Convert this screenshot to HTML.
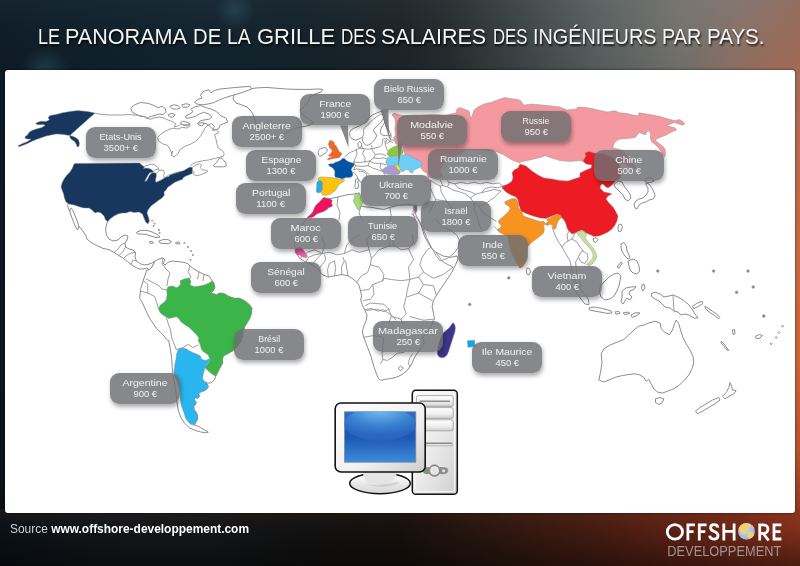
<!DOCTYPE html>
<html lang="fr">
<head>
<meta charset="utf-8">
<title>Le panorama de la grille des salaires des ingénieurs par pays</title>
<style>
html,body{margin:0;padding:0}
body{width:800px;height:566px;overflow:hidden;position:relative;background:#0c141a;font-family:"Liberation Sans",sans-serif}
.bg{position:absolute;left:0;top:0;width:800px;height:566px;background:#0c1a24}
.bt{position:absolute;left:0;top:0;width:800px;height:74px;background:
 radial-gradient(ellipse 170px 150px at 840px 130px, rgba(214,120,85,.75) 0%, rgba(200,110,80,.4) 50%, rgba(160,100,80,0) 100%),
 linear-gradient(to bottom, rgba(255,255,255,.03) 0%, rgba(0,0,0,0) 50%, rgba(0,0,0,.05) 100%),
 linear-gradient(to right,#0e1c27 0px,#10212c 100px,#12242f 200px,#14222a 300px,#1c2428 400px,#262d2f 450px,#3c4546 520px,#596060 600px,#74726d 680px,#82726b 740px,#8a6a5d 800px)}
.bb{position:absolute;left:0;top:509px;width:800px;height:57px;background:
 linear-gradient(to bottom, rgba(255,130,60,.07) 0%, rgba(0,0,0,0) 30%, rgba(0,0,0,.2) 65%, rgba(0,0,0,.42) 100%),
 linear-gradient(to right,#0b1117 0px,#13171a 100px,#15171a 200px,#121212 300px,#17100d 400px,#2e1810 500px,#481d12 600px,#652417 700px,#84301c 800px)}
.bl{position:absolute;left:0;top:70px;width:8px;height:443px;background:linear-gradient(to bottom,#0d1b26 0%,#0c1720 60%,#0b1117 100%)}
.br{position:absolute;left:790px;top:70px;width:10px;height:443px;background:linear-gradient(to bottom,#a06e5c 0px,#b96b4d 80px,#c96a41 180px,#ca653a 290px,#b6532e 380px,#8e3821 443px)}
.spot{position:absolute;border-radius:50%;background:radial-gradient(circle, rgba(60,110,130,.35) 0%, rgba(60,110,130,0) 70%)}
.panel{position:absolute;left:4.5px;top:70px;width:790px;height:443px;background:#fff;border-radius:3px;box-shadow:0 0 3px rgba(0,0,0,.6)}
.title{position:absolute;left:0;top:0;width:800px;height:70px;color:#f4f4f4;font-size:22px;line-height:24px;white-space:nowrap;text-shadow:1px 2px 2px rgba(0,0,0,.75)}
.title span{position:absolute;top:25.3px;transform-origin:0 50%;display:block}
.map,.pc,.logo{position:absolute;left:0;top:0}
.lb{position:absolute;box-sizing:border-box;width:69.9px;height:31.4px;background:rgba(109,110,113,.82);border-radius:9px;color:#f3f3f3;font-size:9.8px;line-height:11.5px;text-align:center;padding-top:3.7px;white-space:nowrap;box-shadow:1px 2.5px 4px rgba(0,0,0,.32)}
.lb span{display:inline-block;transform-origin:50% 50%}
.src{position:absolute;left:10.4px;top:521.6px;font-size:11.95px;line-height:14px;color:#cfcfcf;white-space:nowrap;transform-origin:0 50%}
.src b{color:#fff}
.title,.lb,.src{will-change:transform}
</style>
</head>
<body>
<div class="bg"></div><div class="bl"></div><div class="br"></div><div class="bt"></div><div class="bb"></div>
<div class="spot" style="left:20px;top:45px;width:50px;height:50px"></div>
<div class="spot" style="left:215px;top:-10px;width:40px;height:40px"></div>
<div class="panel"></div>
<div class="title"><span style="left:37.7px;transform:scaleX(0.8182)">LE</span><span style="left:64.9px;transform:scaleX(0.9818)">PANORAMA</span><span style="left:192.6px;transform:scaleX(0.9235)">DE</span><span style="left:227.2px;transform:scaleX(0.8852)">LA</span><span style="left:256.7px;transform:scaleX(0.9996)">GRILLE</span><span style="left:340.9px;transform:scaleX(0.7772)">DES</span><span style="left:381.4px;transform:scaleX(0.9763)">SALAIRES</span><span style="left:492.5px;transform:scaleX(0.7631)">DES</span><span style="left:533.2px;transform:scaleX(0.9016)">INGÉNIEURS</span><span style="left:662.4px;transform:scaleX(0.9017)">PAR</span><span style="left:707.4px;transform:scaleX(0.9351)">PAYS.</span></div>
<svg class="map" width="800" height="566" viewBox="0 0 800 566">
<defs><linearGradient id="gsen" x1="0" y1="0" x2="1" y2="1"><stop offset="0" stop-color="#e23f97"/><stop offset="1" stop-color="#f173b5"/></linearGradient></defs>
<g fill="#fff" stroke="#8c8c8c" stroke-width="1" stroke-linejoin="round">
<path d="M213.0,165.7 L216.8,162.2 L219.0,158.5 L221.2,157.8 L223.5,160.0 L225.8,163.0 L226.5,165.7 L223.5,166.8 L219.0,166.8 L215.2,166.8Z"/>
<path d="M234.0,95.0 L238.0,92.0 L246.0,89.4 L256.0,88.0 L266.0,87.4 L276.0,88.2 L286.0,89.0 L298.0,89.4 L310.0,89.4 L318.0,89.0 L323.0,89.4 L321.0,92.0 L315.0,94.0 L310.0,97.0 L308.0,102.0 L304.0,107.0 L300.0,110.0 L302.0,114.0 L306.0,117.0 L310.0,120.0 L314.0,122.6 L310.0,125.0 L304.0,126.6 L298.0,127.4 L292.0,130.0 L286.0,133.0 L280.0,136.0 L274.0,139.0 L270.0,142.0 L266.0,138.0 L262.0,133.0 L259.0,128.0 L256.0,123.0 L254.0,118.0 L253.0,114.0 L250.0,110.0 L247.0,107.0 L242.0,105.0 L236.0,103.0 L233.0,99.0Z"/>
<path d="M67.6,205.6 L69.0,210.0 L72.0,215.0 L75.0,220.0 L78.0,225.0 L82.0,230.0 L85.6,235.0 L87.0,239.0 L91.0,242.4 L97.0,245.6 L103.0,248.4 L109.0,249.6 L114.0,252.4 L119.0,255.6 L123.6,258.4 L127.6,261.6 L131.0,264.4 L135.0,267.0 L139.0,269.0 L143.0,269.0 L147.0,268.0 L149.0,270.0 L152.0,267.0 L155.0,261.0 L152.0,263.0 L148.0,264.4 L144.0,265.0 L140.0,263.6 L136.4,261.0 L135.0,257.0 L135.6,252.4 L133.0,250.0 L129.0,249.0 L125.6,247.0 L125.0,243.0 L127.0,240.0 L128.0,236.0 L125.0,235.0 L121.0,237.0 L118.0,240.0 L113.0,241.0 L109.0,239.0 L106.4,235.0 L105.6,230.0 L106.4,225.0 L108.0,220.0 L101.0,210.0 L89.0,205.0 L80.0,204.0 L69.0,201.0Z"/>
<path d="M70.0,209.0 L71.6,208.4 L73.6,212.0 L75.6,217.0 L77.6,222.0 L79.0,227.0 L77.6,230.0 L75.6,227.0 L73.6,222.0 L71.6,217.0 L70.0,212.0Z"/>
<path d="M136.4,232.4 L141.0,230.4 L147.0,230.4 L152.0,232.0 L157.0,234.4 L160.0,237.0 L156.0,237.6 L151.0,236.0 L146.0,234.4 L141.0,234.0 L137.6,234.0Z"/>
<path d="M159.0,241.0 L163.0,239.6 L168.0,239.6 L171.6,241.6 L169.0,243.6 L164.0,243.6 L160.0,243.0Z"/>
<path d="M149.0,242.0 L152.0,241.4 L153.6,242.8 L151.0,243.6Z"/>
<path d="M175.6,242.4 L179.0,242.0 L180.0,243.6 L176.4,244.0Z"/>
<path d="M151.6,220.6 L152.4,219.8 L153.2,220.6 L152.4,221.4Z"/>
<path d="M153.6,223.6 L154.4,222.8 L155.2,223.6 L154.4,224.4Z"/>
<path d="M152.8,226.0 L153.6,225.2 L154.4,226.0 L153.6,226.8Z"/>
<path d="M158.2,230.0 L159.0,229.2 L159.8,230.0 L159.0,230.8Z"/>
<path d="M158.8,233.0 L159.6,232.2 L160.4,233.0 L159.6,233.8Z"/>
<path d="M183.6,243.0 L184.4,242.2 L185.2,243.0 L184.4,243.8Z"/>
<path d="M187.2,247.0 L188.0,246.2 L188.8,247.0 L188.0,247.8Z"/>
<path d="M190.2,251.0 L191.0,250.2 L191.8,251.0 L191.0,251.8Z"/>
<path d="M192.2,255.0 L193.0,254.2 L193.8,255.0 L193.0,255.8Z"/>
<path d="M189.6,260.0 L190.4,259.2 L191.2,260.0 L190.4,260.8Z"/>
<path d="M149.0,270.0 L152.0,267.0 L155.0,261.0 L159.0,259.0 L163.0,258.0 L165.0,260.0 L163.0,263.0 L165.0,265.0 L168.0,262.4 L172.0,261.0 L178.0,261.6 L184.0,262.4 L188.0,263.6 L190.0,266.0 L194.0,269.0 L199.0,272.0 L204.0,274.4 L209.0,276.0 L213.9,283.2 L214.8,287.7 L213.0,291.2 L210.4,293.0 L216.5,294.7 L220.1,293.0 L224.5,293.8 L228.9,296.5 L234.2,298.3 L239.5,298.3 L244.8,300.9 L249.2,304.4 L251.9,308.0 L251.5,313.3 L250.1,317.7 L247.5,322.1 L244.8,326.5 L243.0,331.8 L242.2,337.1 L240.4,342.4 L236.9,346.8 L233.3,350.4 L228.9,353.0 L223.3,355.9 L222.4,359.4 L222.8,363.0 L220.7,366.5 L218.9,370.0 L217.1,373.6 L215.7,376.2 L214.5,379.8 L211.8,382.4 L208.3,383.3 L205.1,382.0 L207.4,384.2 L208.3,386.8 L206.5,389.5 L203.0,391.2 L200.4,392.1 L198.6,393.9 L199.5,396.5 L197.7,398.3 L195.1,397.4 L194.2,400.1 L196.3,401.8 L195.6,404.5 L193.8,406.3 L194.2,409.8 L196.3,412.4 L197.7,416.0 L197.3,419.5 L195.6,422.7 L194.2,425.2 L196.8,425.7 L200.4,427.5 L204.8,430.1 L208.3,432.2 L205.7,432.8 L200.4,431.9 L194.2,430.1 L188.9,427.5 L184.5,423.0 L180.9,417.7 L178.3,410.7 L176.9,401.8 L176.1,393.0 L174.7,384.2 L173.0,375.3 L172.1,366.5 L171.6,357.7 L170.3,348.8 L168.6,340.0 L168.0,340.7 L162.7,334.5 L156.5,328.3 L150.3,319.5 L145.9,310.6 L142.4,302.7 L139.7,298.3 L140.6,289.4 L143.2,280.6 L146.8,270.0Z"/>
<path d="M323.0,198.0 L330.0,198.6 L338.0,197.0 L346.0,195.0 L354.0,194.0 L359.0,193.0 L360.4,196.0 L361.0,201.6 L358.4,207.0 L361.0,206.0 L366.0,207.0 L372.0,207.4 L378.0,208.6 L384.0,209.4 L390.0,207.4 L398.0,205.4 L406.0,204.2 L414.0,205.0 L415.0,213.0 L418.0,219.0 L421.0,225.0 L423.0,231.0 L424.0,235.0 L427.2,241.2 L430.9,247.4 L435.8,252.3 L443.2,256.0 L450.7,257.3 L456.8,256.0 L458.1,258.5 L455.6,264.7 L451.9,272.1 L447.0,279.5 L442.0,286.9 L437.1,294.3 L433.4,300.5 L432.1,306.7 L433.4,312.9 L434.6,319.1 L433.0,320.7 L432.2,323.8 L429.8,328.6 L425.8,333.4 L422.6,338.1 L424.2,342.9 L421.1,347.7 L417.9,352.5 L415.5,355.6 L413.9,358.8 L412.3,362.8 L409.9,366.8 L406.8,370.7 L402.8,373.9 L398.8,376.3 L394.0,377.9 L389.3,378.7 L384.5,379.5 L380.5,380.3 L378.1,377.9 L376.2,373.1 L374.2,367.5 L372.6,362.0 L371.0,356.4 L368.6,350.1 L366.2,343.7 L363.8,337.4 L362.3,331.8 L363.8,326.2 L366.2,320.7 L367.0,315.1 L364.6,309.5 L362.3,304.8 L360.7,300.0 L361.6,295.6 L360.4,290.6 L359.2,285.7 L356.7,282.0 L353.0,279.0 L348.0,275.8 L341.9,274.6 L334.5,275.8 L328.3,277.0 L322.1,274.6 L318.4,269.6 L312.2,264.7 L306.0,262.2 L299.8,258.5 L296.1,252.3 L294.9,247.4 L294.4,244.0 L296.0,239.0 L298.0,233.0 L301.0,227.0 L304.0,222.0 L307.0,218.0 L312.0,213.0 L316.0,207.0 L320.0,202.0Z"/>
<path d="M398.0,368.3 L400.4,366.0 L403.3,368.0 L400.7,370.7Z"/>
<path d="M369.2,117.6 L365.3,122.5 L359.4,125.9 L354.6,127.9 L350.7,130.3 L349.5,133.2 L350.2,136.6 L352.2,139.0 L355.1,140.0 L358.0,139.5 L360.9,138.1 L362.6,137.1 L362.4,138.5 L362.9,141.5 L364.3,143.9 L366.3,145.4 L368.7,144.9 L371.1,143.4 L373.5,141.0 L375.5,138.5 L376.5,136.1 L376.0,133.7 L374.0,132.2 L373.5,129.8 L375.0,127.9 L377.4,125.9 L379.9,123.5 L381.8,121.0 L383.3,118.6 L384.2,116.2 L383.8,113.8 L382.8,111.3 L379.9,111.8 L376.0,113.3 L372.1,115.2Z"/>
<path d="M384.2,116.2 L385.7,118.6 L386.2,121.5 L385.7,124.4 L386.7,127.4 L388.6,130.3 L390.6,133.2 L391.1,136.1 L388.6,135.1 L385.7,135.6 L382.8,135.1 L380.8,133.7 L380.4,130.8 L381.3,127.9 L382.8,125.4 L384.2,123.5 L384.7,120.6 L383.3,118.6Z"/>
<path d="M358.0,143.4 L359.4,141.5 L360.9,142.4 L361.9,144.9 L360.9,147.3 L359.0,147.8 L358.0,145.8Z"/>
<path d="M355.7,179.5 L357.5,178.3 L358.5,180.1 L357.8,182.2 L358.5,184.8 L358.0,188.0 L355.9,188.9 L354.8,186.4 L355.4,183.3Z"/>
<path d="M318.5,150.5 L320.3,148.7 L323.4,147.8 L326.0,147.8 L327.4,149.1 L326.9,151.3 L325.6,153.1 L323.4,154.0 L322.1,155.8 L319.9,156.2 L318.5,154.9 L318.1,152.7Z"/>
<path d="M614.0,184.0 L618.0,181.0 L622.0,182.0 L624.0,186.0 L627.0,190.0 L630.0,194.0 L631.0,198.0 L628.0,201.0 L625.0,199.0 L623.0,195.0 L620.0,192.0 L617.0,189.0 L615.0,187.0Z"/>
<path d="M646.0,183.0 L649.0,184.0 L652.0,188.0 L654.0,192.0 L655.0,196.0 L653.0,199.0 L649.0,200.0 L646.0,202.0 L642.0,203.0 L639.0,205.0 L637.0,209.0 L635.0,208.0 L634.0,204.0 L636.0,201.0 L639.0,199.0 L643.0,198.0 L646.0,195.0 L648.0,192.0 L648.0,188.0 L646.4,185.6Z"/>
<path d="M645.0,181.6 L646.4,178.4 L649.6,177.0 L652.4,178.4 L654.0,181.0 L651.0,182.4 L648.0,182.4Z"/>
<path d="M618.4,225.0 L621.0,224.0 L622.4,227.0 L621.0,231.0 L619.0,232.0 L618.0,229.0Z"/>
<path d="M593.0,239.0 L596.0,237.6 L598.0,239.6 L596.0,242.4 L593.6,241.6Z"/>
<path d="M621.0,244.0 L624.0,242.6 L626.4,246.0 L627.0,251.0 L629.0,255.0 L630.0,258.0 L628.0,259.0 L625.0,256.0 L622.4,252.0 L621.0,248.0Z"/>
<path d="M628.0,261.0 L633.0,259.0 L637.0,261.0 L639.0,266.0 L639.6,271.0 L637.0,274.0 L633.0,273.0 L630.0,270.0 L629.0,266.0Z"/>
<path d="M617.0,267.0 L621.0,262.0 L622.4,263.0 L619.0,268.0Z"/>
<path d="M600.0,287.0 L604.0,282.0 L609.0,277.0 L614.0,274.0 L618.0,273.0 L621.0,276.0 L620.0,281.0 L619.0,286.0 L617.0,291.0 L614.0,296.0 L610.0,299.0 L605.0,300.0 L601.0,297.0 L599.6,292.0Z"/>
<path d="M622.0,291.0 L626.0,288.0 L631.0,287.0 L636.0,286.6 L634.0,289.4 L630.0,291.0 L629.0,294.0 L632.0,297.0 L630.0,300.0 L627.0,298.0 L625.0,301.0 L623.0,304.0 L621.0,302.0 L622.0,297.0Z"/>
<path d="M642.0,285.0 L644.0,284.0 L645.0,288.0 L643.0,291.0 L641.6,288.6Z"/>
<path d="M589.0,308.0 L594.0,307.0 L600.0,308.0 L606.0,309.4 L611.0,311.0 L612.0,313.0 L607.0,313.4 L600.0,312.0 L594.0,311.0 L589.6,310.0Z"/>
<path d="M615.0,312.0 L619.0,311.4 L620.0,313.4 L616.0,314.2Z"/>
<path d="M623.0,313.0 L628.0,312.0 L630.0,313.4 L625.0,314.6Z"/>
<path d="M631.0,315.0 L636.0,312.6 L640.0,313.0 L636.0,316.0 L632.0,317.4Z"/>
<path d="M651.0,294.0 L655.0,292.0 L660.0,294.0 L664.0,297.0 L669.0,296.0 L673.0,295.0 L678.0,297.0 L683.0,300.0 L688.0,304.0 L692.0,309.0 L695.0,314.0 L698.0,318.0 L694.0,318.0 L689.0,315.0 L685.0,314.0 L681.0,315.0 L678.0,312.0 L674.0,311.0 L670.0,308.0 L665.0,307.0 L662.0,304.0 L659.0,301.0 L655.0,299.0 L652.0,297.0Z"/>
<path d="M564.0,278.0 L568.0,282.0 L572.0,287.0 L577.0,293.0 L581.0,299.0 L585.0,304.0 L589.0,304.6 L588.4,299.4 L585.0,294.6 L581.0,289.4 L577.0,284.6 L573.0,280.6 L569.0,277.0 L565.6,276.0Z"/>
<path d="M598.8,380.0 L600.5,372.5 L602.0,362.5 L601.2,353.8 L603.8,348.8 L610.0,345.0 L617.5,342.0 L623.8,339.5 L628.8,335.0 L633.8,330.0 L638.8,326.2 L643.8,325.0 L648.8,323.0 L655.0,321.2 L660.0,323.0 L661.2,328.8 L665.0,332.5 L669.5,334.5 L672.5,330.0 L674.5,323.8 L676.2,320.0 L678.8,323.8 L680.5,330.0 L683.0,337.5 L686.2,343.8 L690.0,350.0 L693.0,356.2 L693.8,362.5 L692.0,368.8 L688.8,375.0 L684.5,380.0 L679.5,385.0 L673.8,388.8 L667.5,391.2 L662.5,393.0 L657.5,392.0 L653.8,388.8 L651.2,383.8 L648.8,379.5 L646.2,381.2 L643.8,377.5 L640.0,375.0 L635.0,373.8 L628.8,374.5 L622.5,375.5 L616.2,377.0 L610.0,379.5 L603.8,382.0Z"/>
<path d="M655.5,398.8 L660.0,397.5 L663.8,398.8 L662.5,402.5 L658.8,404.5 L655.5,402.5Z"/>
<path d="M722.5,396.2 L726.2,392.5 L728.8,387.5 L730.0,382.5 L731.5,386.2 L732.5,390.0 L736.2,390.5 L733.8,393.8 L729.5,396.2 L725.0,398.8Z"/>
<path d="M695.5,411.2 L700.0,407.5 L706.2,403.8 L712.5,400.0 L718.8,397.5 L720.0,400.0 L715.0,403.8 L708.8,407.5 L702.5,411.2 L697.5,413.8Z"/>
<path d="M721.2,341.2 L723.8,343.8 L727.0,348.0 L728.8,350.5 L727.0,350.0 L723.8,346.2 L721.2,343.0Z"/>
<path d="M732.5,330.0 L734.5,329.5 L735.0,333.8 L733.0,334.5Z"/>
<path d="M755.5,336.2 L759.5,334.5 L762.5,335.5 L760.0,338.0 L756.2,338.8Z"/>
<path d="M705.0,306.2 L708.8,308.8 L712.5,311.2 L716.2,313.8 L720.0,317.5 L718.8,318.8 L714.5,315.5 L710.0,312.5 L705.5,308.8Z"/>
<path d="M692.5,306.2 L697.5,303.0 L702.0,301.2 L702.5,303.8 L698.8,306.2 L693.8,308.8Z"/>
<path d="M762.8,316.2 L763.8,315.2 L764.8,316.2 L763.8,317.2Z"/>
<path d="M770.2,343.8 L771.2,342.8 L772.2,343.8 L771.2,344.8Z"/>
<path d="M775.2,337.5 L776.2,336.5 L777.2,337.5 L776.2,338.5Z"/>
<path d="M777.8,332.5 L778.8,331.5 L779.8,332.5 L778.8,333.5Z"/>
<path d="M781.5,326.2 L782.5,325.2 L783.5,326.2 L782.5,327.2Z"/>
<path d="M527.0,268.0 L529.5,268.5 L530.5,272.0 L529.0,275.0 L527.0,274.0 L526.3,271.0Z"/>
<path d="M130.8,108.5 L134.5,104.8 L140.5,102.5 L148.0,103.3 L154.0,105.5 L157.8,107.8 L162.3,106.3 L165.3,108.5 L166.0,112.3 L163.0,114.5 L158.5,114.2 L154.0,115.7 L149.5,116.9 L146.8,118.7 L144.3,116.6 L139.8,116.2 L136.0,114.2 L132.3,112.3Z"/>
<path d="M169.8,106.3 L173.6,104.8 L178.1,105.5 L180.3,107.8 L176.6,109.3 L172.1,108.8Z"/>
<path d="M181.8,104.8 L186.3,103.7 L190.1,104.8 L187.8,107.0 L183.3,107.3Z"/>
<path d="M168.3,114.5 L172.1,113.3 L175.1,114.8 L172.8,117.2 L169.3,116.8Z"/>
<path d="M190.8,109.3 L194.6,107.0 L200.6,105.5 L206.6,107.8 L211.9,109.3 L216.4,111.5 L220.1,115.3 L226.1,118.3 L227.6,122.1 L223.9,123.6 L220.1,125.1 L218.6,128.8 L214.1,130.3 L211.1,127.3 L207.3,124.3 L203.6,122.8 L199.8,125.1 L197.6,123.6 L200.6,120.6 L205.1,119.8 L209.6,119.0 L211.9,116.8 L208.1,113.8 L203.6,112.3 L199.8,113.8 L196.1,116.0 L191.6,117.5 L186.3,118.3 L185.6,116.0 L190.1,113.8 L193.1,111.5Z"/>
<path d="M194.6,102.5 L197.6,99.5 L202.1,98.0 L200.6,95.0 L203.6,91.3 L208.8,89.8 L211.1,92.8 L214.1,90.5 L220.1,89.0 L227.6,88.3 L235.1,87.5 L244.1,86.8 L250.2,86.3 L251.7,89.0 L241.1,92.8 L233.6,95.0 L226.1,97.3 L220.1,99.5 L214.1,102.5 L208.1,104.0 L202.1,104.8 L196.8,104.0Z"/>
<path d="M180.3,122.8 L182.6,121.3 L187.1,122.1 L190.1,123.9 L187.8,125.8 L183.3,125.4Z"/>
<path d="M198.3,123.6 L201.3,122.4 L204.3,123.9 L202.1,125.8 L199.1,125.4Z"/>
</g>
<g fill="none" stroke="#939393" stroke-width="0.9" stroke-linejoin="round" stroke-linecap="round">
<path d="M95.4,113.2 L102.0,114.6 L110.0,115.0 L120.0,115.0 L130.0,114.6 L138.0,115.4 L146.0,117.0 L150.0,119.4 L154.0,118.0 L159.0,117.0 L164.0,118.0 L168.0,120.0 L172.0,121.4 L176.0,124.0 L174.0,127.0 L178.0,126.0 L181.0,124.0 L185.0,125.0 L189.0,124.0 L190.4,126.0 L187.0,128.0 L182.0,127.4 L178.0,129.0 L173.0,128.2 L169.0,129.4 L165.0,131.4 L161.0,134.0 L157.6,137.4 L158.4,141.0 L163.0,144.0 L167.6,145.4 L170.0,149.4 L172.0,154.0 L172.5,151.0 L171.0,155.2 L174.0,157.0 L177.8,154.0 L180.0,149.5 L185.2,146.2 L190.5,144.2 L195.8,141.2 L199.5,137.5 L202.5,133.0 L205.0,128.0 L208.0,125.0 L211.6,123.6 L214.4,126.6 L212.4,130.6 L216.0,129.4 L219.0,132.6 L214.5,134.5 L216.0,139.0 L216.8,143.5 L218.2,148.0 L222.0,150.2 L224.2,153.2 L223.5,156.2 L220.5,157.0 L214.5,158.5 L208.5,160.0 L202.5,160.8 L196.5,162.2 L192.8,163.8 L190.5,165.7"/>
<path d="M192.4,167.8 L195.0,165.2 L199.5,163.8 L201.8,165.2 L200.2,167.5 L202.5,169.8 L206.2,170.2 L207.8,171.2 L204.0,173.5 L199.5,175.0 L195.8,175.8 L193.5,174.2 L194.2,172.0 L192.4,170.2"/>
<path d="M114.0,252.4 L118.0,249.0 L121.0,245.0 L125.0,243.0"/>
<path d="M123.6,258.4 L127.0,255.0 L131.0,253.0 L135.6,252.4"/>
<path d="M131.0,264.4 L133.0,260.0 L136.4,261.0"/>
<path d="M119.0,255.6 L122.4,252.4 L125.6,247.0"/>
<path d="M163.0,258.0 L162.0,264.0 L166.0,269.0 L170.0,273.0 L168.0,279.0 L167.0,286.0"/>
<path d="M190.0,266.0 L188.0,272.0 L191.0,277.0 L188.0,281.0"/>
<path d="M199.0,272.0 L197.6,279.0"/>
<path d="M204.0,274.4 L203.0,281.0"/>
<path d="M146.0,279.0 L152.0,282.0 L158.0,285.0 L162.0,289.0 L167.0,290.0"/>
<path d="M306.0,262.2 L308.5,257.3 L314.7,254.8 L322.1,253.5"/>
<path d="M312.2,264.7 L315.9,259.7 L322.1,253.5"/>
<path d="M318.4,269.6 L322.1,264.7 L325.8,259.7 L324.6,254.8"/>
<path d="M328.3,277.0 L327.5,269.6 L329.5,263.4 L334.5,261.0"/>
<path d="M334.5,275.8 L335.7,268.4 L334.5,261.0"/>
<path d="M341.9,274.6 L341.4,267.1 L344.3,261.0 L343.1,257.3"/>
<path d="M348.0,275.8 L346.8,268.4 L345.6,261.0"/>
<path d="M299.8,258.5 L307.3,252.3 L314.7,249.8 L322.1,253.5 L329.5,252.3 L336.9,254.8 L344.3,253.5 L351.8,249.8 L359.2,252.3 L369.1,249.8 L371.5,258.5"/>
<path d="M356.7,282.0 L361.6,275.8 L367.8,272.1 L370.3,264.7 L371.5,258.5"/>
<path d="M370.3,264.7 L379.0,267.1 L383.9,274.6 L382.7,280.7"/>
<path d="M360.4,290.6 L369.1,289.4 L372.8,284.5 L382.7,280.7"/>
<path d="M363.6,300.5 L370.3,299.3 L374.0,294.3 L372.8,284.5"/>
<path d="M365.4,305.5 L370.3,303.0 L383.9,304.2 L388.8,309.2 L391.3,316.6 L401.2,319.1 L406.2,314.1 L403.7,306.7 L406.2,296.8 L407.4,289.4 L409.9,279.5 L401.2,280.7 L391.3,279.5 L383.9,278.3 L382.7,280.7"/>
<path d="M409.9,279.5 L418.5,277.0 L423.5,272.1 L419.8,264.7 L422.2,257.3 L427.2,249.8 L430.9,247.4"/>
<path d="M418.5,277.0 L423.5,284.5 L433.4,285.7 L436.3,294.8"/>
<path d="M418.5,293.1 L432.1,300.5"/>
<path d="M407.4,296.8 L418.5,293.1 L423.5,284.5"/>
<path d="M435.8,252.3 L443.2,262.2 L453.1,267.1 L443.2,274.6 L433.4,278.3 L423.5,272.1"/>
<path d="M409.9,316.6 L423.5,320.3 L433.4,319.1"/>
<path d="M366.6,310.4 L376.5,309.2 L383.9,311.6 L388.8,309.2"/>
<path d="M371.5,258.5 L379.0,249.8 L388.8,246.1 L391.3,235.0"/>
<path d="M391.3,235.0 L393.8,244.9 L401.2,249.8 L408.6,248.6 L413.6,242.4 L412.3,235.0"/>
<path d="M388.8,246.1 L393.8,244.9"/>
<path d="M409.9,279.5 L408.6,267.1 L413.6,259.7 L408.6,248.6"/>
<path d="M322.1,253.5 L324.6,244.9 L322.1,237.5"/>
<path d="M344.3,253.5 L346.8,244.9 L354.2,237.5 L359.2,235.0"/>
<path d="M369.1,249.8 L366.6,239.9 L370.3,235.0"/>
<path d="M401.2,319.1 L402.4,324.0"/>
<path d="M391.3,316.6 L388.8,322.8"/>
<path d="M363.8,337.4 L371.8,335.8 L379.7,336.2 L383.7,337.4 L382.9,346.1 L382.1,354.0 L382.9,359.6 L380.5,363.6"/>
<path d="M382.9,359.6 L387.7,360.4 L392.5,357.2 L397.2,353.2 L403.6,352.5"/>
<path d="M409.9,366.8 L408.3,362.8 L409.9,358.0 L412.3,354.0"/>
<path d="M364.6,309.5 L371.8,308.7 L378.1,311.1 L382.9,309.5 L387.7,312.7 L392.5,315.9 L395.6,319.9"/>
<path d="M338.0,197.0 L337.0,205.0 L340.0,213.0 L339.0,220.0"/>
<path d="M359.0,193.0 L358.0,200.0 L361.0,206.0"/>
<path d="M361.0,206.0 L359.0,213.0 L362.0,220.0"/>
<path d="M390.0,207.4 L391.0,215.0 L390.0,222.0"/>
<path d="M414.0,205.0 L413.0,213.0 L415.0,220.0"/>
<path d="M362.6,137.1 L363.8,133.2 L363.3,130.3 L364.3,127.9 L366.7,125.9 L369.2,123.5 L371.6,121.0 L374.0,118.6 L377.4,116.2 L380.8,114.2 L383.8,113.8"/>
<path d="M344.9,156.5 L347.3,154.6 L349.2,153.1 L351.7,151.7 L354.6,150.7 L357.5,149.2 L360.9,148.3 L364.3,148.8 L368.2,149.2 L372.1,148.8 L376.0,147.8 L379.9,146.8 L381.8,144.9 L382.8,142.0 L382.3,139.5 L384.7,138.5 L386.7,140.0 L385.7,142.4 L387.6,143.4 L389.6,142.0 L390.6,139.0 L391.1,136.1"/>
<path d="M371.6,145.5 L372.6,150.6 L375.3,154.6 L373.7,157.8"/>
<path d="M384.8,141.1 L385.6,145.9 L387.5,150.6"/>
<path d="M356.2,149.0 L357.0,153.8 L355.4,157.8 L353.8,161.8"/>
<path d="M353.8,161.8 L359.4,162.5 L365.0,161.8 L369.7,161.0 L373.7,157.8"/>
<path d="M373.7,157.8 L379.3,158.6 L384.0,157.8 L387.2,159.4"/>
<path d="M369.7,161.0 L374.5,163.3 L380.9,163.3 L385.6,164.9"/>
<path d="M353.8,161.8 L355.4,165.7 L353.8,169.7"/>
<path d="M355.4,165.7 L361.8,166.5 L368.1,165.7 L369.7,161.0"/>
<path d="M353.8,169.7 L357.8,168.9 L361.8,169.7 L365.8,171.3 L368.9,174.5"/>
<path d="M368.1,165.7 L372.9,168.1 L377.7,169.7 L382.5,171.3 L384.8,174.5"/>
<path d="M380.9,163.3 L380.1,167.3 L382.5,171.3"/>
<path d="M385.9,137.9 L389.6,141.1 L392.8,142.7"/>
<path d="M389.1,136.6 L390.4,139.5 L393.6,140.3"/>
<path d="M375.3,154.6 L380.9,153.8 L385.6,155.4"/>
<path d="M361.8,146.2 L364.2,149.8 L362.6,153.8 L365.0,157.8 L365.0,161.8"/>
<path d="M350.1,171.8 L354.1,172.6 L356.5,175.8 L358.8,179.7 L361.2,182.9"/>
<path d="M358.8,171.0 L363.6,171.8 L366.8,174.2 L366.0,177.4"/>
<path d="M440.4,180.3 L442.8,185.4 L446.8,187.0 L449.2,183.8 L447.6,180.3"/>
<path d="M449.2,182.3 L454.7,183.8 L461.1,182.3 L467.5,183.8 L473.8,182.3 L480.2,183.8 L486.5,182.3 L492.9,183.8 L499.2,183.0 L504.0,187.0"/>
<path d="M447.6,187.0 L453.1,190.2 L459.5,191.8 L465.9,194.2 L470.6,198.1"/>
<path d="M454.7,183.8 L457.9,187.8 L464.3,190.2 L470.6,191.8 L475.4,194.2"/>
<path d="M470.6,198.1 L475.4,194.2 L481.8,192.6 L488.1,191.0 L494.5,189.4 L500.8,191.0"/>
<path d="M470.6,198.1 L473.8,202.9 L478.6,206.1 L484.9,204.5 L489.7,200.5 L494.5,197.4 L497.6,194.2 L500.8,191.0"/>
<path d="M481.8,192.6 L484.9,188.6 L491.3,187.0 L497.6,187.8 L503.2,186.2"/>
<path d="M473.8,202.9 L474.6,209.3 L477.0,215.6 L478.6,223.6 L481.8,229.9"/>
<path d="M430.9,180.7 L435.7,183.8 L440.4,186.2 L442.8,185.4"/>
<path d="M430.9,180.7 L430.1,187.0 L432.5,193.4 L435.7,199.7"/>
<path d="M440.4,186.2 L441.2,191.8 L444.4,197.4 L446.8,201.3"/>
<path d="M424.5,181.5 L430.9,180.7"/>
<path d="M435.7,199.7 L442.0,200.5 L446.8,201.3 L451.6,207.7 L456.3,214.0"/>
<path d="M435.7,199.7 L432.5,206.1 L429.3,212.5"/>
<path d="M478.6,206.1 L483.3,212.5 L489.7,217.2 L496.1,221.2"/>
<path d="M494.5,226.8 L497.6,229.9 L504.0,232.3"/>
<path d="M411.5,213.8 L417.8,218.8 L422.8,227.6 L426.6,237.6 L431.6,247.7 L436.6,256.5 L440.4,261.0 L447.9,258.2 L454.2,253.2 L457.9,247.7 L459.9,241.4 L456.7,235.1 L450.4,230.1 L444.1,227.6 L439.1,223.8 L435.4,218.8"/>
<path d="M673.0,295.0 L674.0,311.0"/>
<path d="M552.0,227.0 L555.0,235.0 L558.0,241.0 L562.0,247.0 L566.0,254.0 L570.0,261.0 L571.6,268.0 L573.0,275.0 L576.0,282.0 L579.0,287.4 L581.0,286.0 L579.0,280.0 L577.0,274.0 L576.0,267.0 L575.6,262.0 L578.4,257.4 L581.0,262.0 L585.0,263.4 L588.0,259.0 L587.6,254.0"/>
<path d="M568.0,241.0 L572.0,239.0 L577.0,242.0 L580.0,247.0 L583.0,251.0 L587.0,254.0"/>
<path d="M562.0,247.0 L565.0,243.0 L568.0,241.0 L567.0,235.0 L570.0,229.0"/>
<path d="M578.4,257.4 L580.0,253.0 L583.0,251.0"/>
<path d="M572.0,239.0 L575.0,233.0 L580.0,229.0"/>
<path d="M166.2,316.8 L168.0,323.0 L170.6,330.1 L171.5,337.1 L174.2,344.2 L176.3,349.5"/>
<path d="M176.3,349.5 L183.0,347.7 L188.3,344.2 L192.7,347.7 L198.0,345.1"/>
<path d="M141.0,291.2 L147.7,293.0 L154.7,296.5 L158.6,308.9"/>
<path d="M143.2,280.6 L147.7,284.1 L147.7,293.0"/>
<path d="M143.5,168.5 L143.0,167.5 L145.0,166.0 L148.5,165.0 L152.0,164.0 L155.0,165.0 L157.5,167.2 L159.2,169.5 L157.0,169.2 L154.5,170.0 L153.5,171.5"/>
<path d="M156.2,173.5 L158.0,171.5 L161.0,170.0 L163.5,170.5 L164.5,173.0 L163.5,175.5 L164.5,178.0"/>
<path d="M166.0,177.0 L168.5,175.2 L172.0,174.0 L175.0,172.8 L178.0,172.2 L181.0,171.5"/>
</g>
<g stroke="#8e8e8e" stroke-width="0.45" stroke-linejoin="round">
<path fill="#17375f" d="M75.0,163.4 L139.4,163.0 L142.4,165.4 L144.4,167.0 L143.4,168.4 L146.0,168.0 L149.0,168.4 L151.4,169.4 L153.4,171.4 L152.4,172.4 L150.0,172.4 L148.4,174.4 L147.0,177.0 L145.4,180.0 L144.8,181.4 L146.4,181.0 L148.0,178.4 L149.4,175.4 L151.0,173.4 L154.0,172.4 L156.2,173.4 L156.4,176.0 L155.8,178.4 L155.4,181.0 L156.2,182.2 L159.0,181.0 L162.0,179.4 L164.4,178.0 L166.0,177.0 L169.0,176.4 L170.0,175.0 L173.0,174.0 L177.0,172.8 L181.0,171.4 L184.0,170.4 L186.4,169.0 L189.0,167.4 L191.4,167.0 L192.4,168.4 L192.2,171.4 L192.4,173.4 L190.0,174.4 L187.4,175.4 L185.0,176.4 L183.0,178.0 L182.4,179.4 L180.4,180.0 L178.0,181.0 L175.4,182.0 L173.0,183.4 L171.0,185.0 L168.0,187.0 L166.0,190.0 L164.0,192.0 L164.4,195.0 L162.0,198.0 L159.0,200.0 L155.0,203.0 L151.0,206.0 L148.0,210.0 L147.0,213.0 L148.4,217.0 L149.4,221.0 L148.0,224.0 L145.6,222.0 L144.0,218.0 L142.4,214.0 L139.0,212.0 L134.0,212.4 L130.0,211.6 L126.0,213.0 L122.0,213.0 L118.0,214.0 L114.0,216.0 L110.0,219.0 L108.0,221.6 L105.6,220.0 L104.0,216.0 L101.0,213.0 L98.0,212.0 L95.0,213.0 L92.0,210.0 L89.0,208.0 L84.0,208.0 L80.0,207.0 L74.0,205.0 L69.0,204.0 L66.0,202.0 L64.4,198.0 L63.6,194.0 L62.4,191.0 L61.0,187.0 L62.0,183.0 L64.0,179.0 L67.0,175.0 L70.0,172.0 L72.4,168.0 L74.0,164.0Z"/>
<path fill="#17375f" d="M95.0,113.1 L87.5,111.5 L77.5,110.6 L70.0,111.5 L62.5,112.8 L56.2,114.4 L50.0,115.6 L48.1,117.5 L49.4,119.8 L46.2,121.5 L41.2,121.2 L36.9,122.5 L35.6,123.8 L38.1,124.8 L43.8,124.4 L45.0,125.6 L41.9,127.5 L36.2,129.0 L31.9,130.6 L28.8,132.5 L27.8,134.8 L25.2,136.5 L25.0,138.2 L27.5,139.0 L31.2,139.2 L26.2,142.2 L22.5,143.5 L18.1,145.8 L18.8,146.8 L22.5,145.5 L27.5,143.5 L32.5,141.0 L36.9,139.2 L41.2,137.8 L46.2,136.1 L51.2,134.9 L56.2,134.0 L61.2,134.2 L66.2,135.0 L70.0,135.6 L72.5,136.2 L75.6,137.5 L78.5,139.8 L79.4,143.1 L79.0,146.5 L77.2,146.8 L76.0,143.8 L74.4,141.2 L71.9,139.8 L69.8,137.5 L70.0,135.5 L72.5,133.1Z"/>
<path fill="#f4999f" d="M392.0,115.0 L394.0,113.0 L400.0,115.0 L406.0,116.0 L415.0,115.0 L420.0,115.0 L432.0,114.6 L446.0,115.0 L456.0,113.0 L457.0,109.0 L460.0,107.4 L464.0,109.0 L469.0,111.0 L470.0,115.0 L471.0,119.0 L472.4,115.0 L474.0,110.0 L478.0,107.0 L484.0,104.0 L492.0,102.0 L500.0,99.0 L505.0,97.4 L510.0,98.6 L518.0,99.4 L521.0,101.0 L523.0,104.6 L524.0,105.0 L532.0,104.0 L542.0,105.0 L552.0,106.0 L560.0,107.0 L567.0,110.0 L576.0,109.0 L578.0,107.0 L586.0,107.4 L594.0,109.0 L600.0,110.5 L607.5,112.0 L615.0,110.8 L619.5,112.8 L627.0,113.5 L633.0,115.0 L638.2,115.8 L639.0,112.8 L645.0,113.8 L652.5,115.0 L660.0,116.5 L667.5,118.8 L675.0,120.7 L679.5,119.5 L683.2,121.8 L684.8,124.0 L681.8,125.2 L678.0,123.7 L674.2,122.5 L670.5,124.0 L666.0,125.5 L670.5,126.7 L675.0,127.8 L676.5,130.0 L672.8,131.5 L669.0,133.3 L666.0,135.2 L661.5,136.8 L657.0,138.7 L655.5,140.5 L659.2,143.5 L663.0,146.5 L665.2,149.5 L665.7,153.2 L664.5,157.3 L662.7,154.8 L660.8,151.0 L658.5,148.0 L654.8,144.2 L651.8,142.0 L650.2,138.2 L650.7,133.8 L648.8,130.8 L646.5,132.2 L645.8,134.8 L642.0,133.8 L639.0,132.2 L637.5,134.8 L635.2,137.5 L630.0,138.2 L624.0,138.7 L618.8,139.3 L615.0,142.0 L613.5,145.0 L612.8,148.0 L622.5,150.2 L627.8,157.0 L632.2,163.0 L636.8,169.0 L630.0,166.0 L615.0,160.0 L600.0,160.0 L600.0,155.0 L586.0,154.0 L585.0,162.0 L580.0,160.6 L570.0,161.4 L560.0,160.6 L550.0,157.4 L545.0,155.4 L542.0,157.0 L530.0,160.0 L520.0,162.0 L520.0,163.0 L512.0,160.0 L504.0,155.0 L496.0,151.6 L494.0,151.0 L480.0,150.0 L466.0,149.6 L460.0,154.0 L450.0,158.0 L443.0,164.0 L440.0,170.0 L443.0,177.0 L436.0,178.0 L428.0,177.0 L427.0,173.0 L423.0,171.0 L420.0,166.0 L417.0,162.0 L412.0,159.0 L408.0,157.0 L405.0,154.0 L402.4,147.0 L399.0,145.6 L395.6,143.6 L393.6,138.4 L395.6,134.4 L394.8,129.2 L395.6,123.8 L395.0,119.0Z"/>
<path fill="#ed1c24" d="M520.0,164.0 L526.0,166.0 L532.0,171.0 L538.0,175.0 L544.0,178.0 L552.0,179.0 L560.0,180.6 L568.0,181.0 L574.0,179.0 L580.0,177.0 L580.0,173.0 L586.0,170.0 L591.0,168.0 L592.0,165.0 L586.0,164.0 L583.0,161.0 L586.0,156.0 L585.0,153.0 L589.0,151.4 L594.0,153.0 L604.0,154.0 L612.0,157.0 L618.0,163.0 L622.0,171.0 L620.0,178.0 L615.0,181.4 L612.0,185.0 L608.0,188.0 L606.0,187.0 L603.0,184.0 L601.0,184.6 L600.0,188.0 L604.0,192.0 L609.0,193.0 L612.0,194.0 L608.0,196.0 L606.0,199.0 L609.0,203.0 L613.0,207.0 L616.0,212.0 L618.0,216.0 L617.0,221.0 L615.0,225.0 L612.0,229.0 L608.0,232.0 L604.0,234.0 L599.0,236.0 L594.0,236.6 L591.0,235.0 L586.0,233.0 L582.0,230.0 L579.0,231.0 L575.0,233.0 L572.0,234.0 L569.0,231.0 L567.0,228.0 L566.0,224.0 L564.0,220.0 L560.0,216.0 L557.0,214.0 L552.0,216.0 L546.0,218.6 L540.0,218.0 L533.0,216.0 L526.0,213.4 L521.0,211.0 L519.0,205.0 L518.0,200.0 L516.0,197.0 L511.0,195.0 L506.0,192.0 L502.0,188.0 L503.0,186.0 L508.0,184.0 L512.0,181.0 L513.0,177.0 L512.0,173.0 L514.0,170.0 L518.0,168.0Z"/>
<path fill="#f7931e" d="M504.6,201.9 L507.8,200.3 L511.8,198.7 L515.8,198.7 L517.4,201.1 L518.9,205.1 L518.1,207.5 L520.5,209.9 L522.1,212.3 L522.9,215.4 L526.1,217.0 L530.9,218.6 L535.6,220.2 L541.2,221.8 L543.6,221.0 L545.2,223.4 L548.3,221.8 L546.8,219.4 L549.9,217.8 L553.9,215.4 L557.9,214.2 L561.1,215.4 L561.4,217.8 L558.7,220.2 L557.1,223.4 L556.3,227.4 L554.7,229.7 L553.1,228.1 L552.3,225.0 L549.9,224.2 L547.5,225.8 L545.2,224.2 L543.6,225.8 L544.4,229.7 L543.6,232.9 L541.2,235.3 L538.0,237.7 L534.8,240.1 L530.9,243.2 L527.7,246.4 L526.9,250.4 L526.9,255.2 L526.1,259.9 L524.5,263.9 L522.1,267.1 L519.7,267.9 L518.1,265.5 L515.8,261.5 L513.4,256.8 L511.0,251.2 L509.4,245.6 L508.3,240.1 L507.3,236.1 L505.4,235.3 L502.3,233.7 L499.1,232.1 L497.5,229.7 L499.9,228.1 L501.5,225.8 L499.1,223.4 L498.3,221.0 L500.7,218.6 L503.8,216.2 L506.2,213.8 L508.6,211.5 L510.2,208.3 L508.6,205.9 L505.4,204.3Z"/>
<path fill="#c5e29b" d="M577.0,232.1 L581.7,230.5 L584.9,232.1 L586.5,235.3 L584.9,237.7 L587.3,240.9 L590.5,244.8 L593.6,248.8 L596.0,252.8 L596.8,256.8 L595.2,260.7 L592.1,263.9 L588.9,265.5 L586.5,264.7 L589.7,261.5 L592.8,258.3 L593.2,254.4 L591.3,250.4 L588.1,246.4 L584.9,243.2 L582.5,240.1 L580.1,236.9 L577.7,234.5Z"/>
<path fill="#3bb54a" d="M168.0,286.8 L172.4,285.9 L176.8,287.7 L180.3,285.0 L180.3,280.6 L184.8,278.8 L189.2,277.9 L190.9,281.5 L190.1,285.0 L194.5,286.8 L199.8,285.9 L204.2,285.0 L208.6,283.2 L212.1,281.0 L213.9,283.2 L214.8,287.7 L213.0,291.2 L210.4,293.0 L216.5,294.7 L220.1,293.0 L224.5,293.8 L228.9,296.5 L234.2,298.3 L239.5,298.3 L244.8,300.9 L249.2,304.4 L251.9,308.0 L251.5,313.3 L250.1,317.7 L247.5,322.1 L244.8,326.5 L243.0,331.8 L242.2,337.1 L240.4,342.4 L236.9,346.8 L233.3,350.4 L228.9,353.0 L223.3,355.9 L222.4,359.4 L222.8,363.0 L220.7,366.5 L218.9,370.0 L217.1,373.6 L215.7,376.2 L212.7,374.5 L209.2,371.8 L206.5,369.2 L204.8,367.4 L207.4,364.7 L209.2,362.1 L210.4,359.4 L209.2,357.7 L208.3,355.0 L205.7,353.3 L203.0,351.5 L201.2,348.8 L200.4,345.3 L199.1,341.8 L198.0,341.5 L198.9,338.0 L196.2,334.5 L192.7,330.9 L189.2,327.4 L184.8,324.8 L181.2,322.1 L178.6,318.6 L176.3,316.8 L172.4,317.7 L168.9,318.6 L166.2,316.8 L162.7,315.0 L160.0,312.4 L158.6,308.9 L160.0,305.3 L163.6,302.7 L166.2,300.0 L167.1,294.7 L166.7,290.3Z"/>
<path fill="#29b5ee" d="M179.2,348.8 L182.7,348.0 L186.2,348.8 L188.9,350.6 L192.4,352.4 L196.8,354.1 L200.4,355.9 L201.2,358.6 L203.9,360.3 L206.5,360.3 L209.2,358.6 L210.1,360.3 L208.3,363.0 L206.5,365.6 L204.8,368.3 L203.9,371.8 L203.0,375.3 L202.7,378.9 L204.8,381.5 L207.4,384.2 L208.3,386.8 L206.5,389.5 L203.0,391.2 L200.4,392.1 L198.6,393.9 L199.5,396.5 L197.7,398.3 L195.1,397.4 L194.2,400.1 L196.3,401.8 L195.6,404.5 L193.8,406.3 L194.2,409.8 L196.3,412.4 L197.7,416.0 L197.3,419.5 L195.6,422.7 L193.8,424.8 L191.5,424.5 L189.2,423.0 L187.1,420.4 L185.3,417.7 L184.5,414.2 L183.2,410.7 L181.8,407.1 L180.9,402.7 L180.4,398.3 L180.0,393.0 L179.2,388.6 L177.9,384.2 L176.5,379.8 L174.7,376.2 L173.9,371.8 L174.4,367.4 L175.1,363.0 L176.1,358.6 L176.5,354.1 L177.9,350.6Z"/>
<path fill="#f26522" d="M329.6,140.7 L331.8,140.3 L332.7,141.6 L334.6,142.5 L334.0,144.3 L335.8,145.2 L337.1,147.4 L338.1,149.6 L339.3,151.8 L341.5,153.1 L341.9,154.4 L340.6,155.8 L339.7,157.5 L337.1,158.1 L334.0,158.4 L331.3,158.9 L329.1,159.7 L327.4,159.6 L328.3,158.1 L330.5,157.5 L332.2,156.6 L329.6,156.2 L328.3,155.5 L330.0,154.0 L331.3,152.7 L332.2,150.9 L331.3,149.1 L329.6,148.3 L329.1,146.0 L328.3,144.3 L329.0,142.5Z"/>
<path fill="#0054a6" d="M328.3,164.6 L330.5,163.7 L333.1,163.7 L334.9,162.4 L338.0,161.5 L340.2,160.6 L342.4,158.4 L344.2,158.1 L345.5,159.7 L348.1,161.5 L350.8,162.4 L353.9,163.3 L354.3,165.0 L352.5,167.2 L351.2,169.5 L352.1,171.7 L353.0,173.9 L352.5,176.1 L350.8,177.2 L348.6,177.6 L345.9,177.4 L344.2,178.3 L341.9,179.0 L340.2,178.3 L337.5,177.8 L335.3,177.2 L334.6,175.2 L334.9,172.1 L334.3,169.9 L332.7,168.1 L330.9,166.8 L329.1,165.9Z"/>
<path fill="#ffc20e" d="M318.3,178.0 L320.9,176.9 L326.2,177.2 L331.5,177.6 L335.7,178.3 L340.0,179.5 L343.7,179.3 L344.8,180.6 L342.6,182.2 L340.0,183.8 L337.9,185.9 L336.8,188.6 L335.2,190.7 L333.1,192.3 L331.0,193.9 L327.8,194.9 L324.6,195.4 L322.5,194.6 L320.9,192.8 L322.0,190.1 L322.5,187.0 L322.0,183.8 L320.9,181.1 L318.3,180.1Z"/>
<path fill="#29abe2" d="M317.2,181.7 L318.8,180.6 L321.4,181.1 L322.5,183.3 L322.0,185.9 L322.5,188.6 L321.4,191.2 L319.8,192.8 L317.2,192.8 L316.1,190.7 L316.7,187.0 L316.7,183.8Z"/>
<path fill="#ed145b" d="M324.1,197.6 L327.8,198.4 L331.0,199.2 L332.3,200.7 L331.5,203.4 L332.8,205.5 L331.0,207.1 L328.9,207.6 L326.7,209.8 L324.1,211.3 L320.9,212.4 L317.7,213.5 L315.6,215.1 L314.0,216.6 L311.4,217.5 L307.1,217.9 L308.7,216.1 L311.4,214.3 L313.0,211.9 L314.0,208.7 L315.6,205.5 L318.3,202.9 L320.9,200.7 L322.5,198.8Z"/>
<path fill="#a6d96f" d="M354.8,194.9 L357.5,193.5 L360.1,194.2 L360.7,196.5 L360.1,198.6 L362.2,200.7 L362.8,203.4 L361.2,205.5 L360.1,207.6 L359.1,210.3 L357.5,209.2 L355.9,206.0 L354.3,203.4 L353.2,200.7 L354.3,197.8Z"/>
<path fill="#8dc63f" d="M387.7,151.9 L389.8,149.1 L393.3,147.0 L396.9,145.5 L400.4,146.3 L401.8,148.4 L403.2,151.2 L402.5,154.0 L400.4,155.4 L396.9,156.1 L392.6,156.1 L389.1,156.1 L387.2,154.7Z"/>
<path fill="#6dcff6" d="M386.3,160.4 L387.7,157.6 L389.8,156.1 L394.0,156.6 L398.3,156.6 L401.8,155.4 L405.3,154.3 L408.9,155.4 L412.4,157.6 L415.9,159.0 L419.5,160.4 L422.3,163.2 L421.6,166.0 L418.8,167.9 L415.9,168.9 L413.8,170.3 L412.4,173.1 L410.3,172.4 L408.9,170.3 L406.0,169.6 L403.9,171.0 L401.4,171.7 L400.4,169.6 L398.3,168.2 L396.1,166.0 L393.3,165.3 L389.8,166.0 L387.0,165.3 L385.8,163.2Z"/>
<path fill="#a99ad4" d="M382.0,170.3 L384.1,168.2 L387.0,166.5 L390.5,166.0 L394.0,165.6 L396.1,166.7 L397.6,168.9 L399.7,170.3 L400.4,172.4 L399.0,174.1 L395.4,174.5 L391.2,174.5 L387.0,174.1 L384.1,173.1Z"/>
<path fill="#fff200" d="M395.4,165.3 L397.6,165.1 L399.0,166.5 L400.4,168.9 L400.0,171.0 L398.3,170.3 L397.1,168.2 L395.9,166.7Z"/>
<path fill="url(#gsen)" d="M294.9,250.8 L296.5,248.1 L299.1,247.1 L301.8,247.9 L303.4,250.1 L305.0,252.4 L306.6,254.5 L307.6,256.6 L306.0,257.7 L303.4,257.2 L301.3,256.4 L299.7,255.0 L297.5,255.0 L296.0,254.0 L295.2,252.4Z"/>
<path fill="#3d378c" d="M452.8,322.8 L454.0,323.5 L455.0,325.4 L455.4,328.2 L454.9,331.8 L453.8,335.3 L452.5,339.3 L451.2,343.3 L449.9,347.2 L448.7,351.2 L447.2,354.7 L444.6,357.2 L441.5,357.8 L438.8,356.7 L437.5,354.3 L437.2,351.2 L437.9,347.7 L438.8,344.1 L439.7,340.6 L441.0,337.1 L442.4,334.0 L444.6,331.8 L447.2,329.6 L449.4,327.4 L451.2,324.9Z"/>
<path fill="#00aeef" d="M467.4,340.7 L474.6,340.2 L474.9,346.6 L467.9,347.3Z"/>
<path fill="#a45fa6" d="M414.6,204.6 L416.8,205.0 L417.0,210.6 L415.6,214.0 L414.4,210.6Z"/>
<path fill="#8a8a8a" d="M656.4,271.1 L656.8,270.1 L657.8,269.7 L658.8,270.1 L659.2,271.1 L658.8,272.1 L657.8,272.5 L656.8,272.1Z"/>
<path fill="#8a8a8a" d="M712.2,271.1 L712.6,270.1 L713.6,269.7 L714.6,270.1 L715.0,271.1 L714.6,272.1 L713.6,272.5 L712.6,272.1Z"/>
<path fill="#8a8a8a" d="M746.6,271.1 L747.0,270.1 L748.0,269.7 L749.0,270.1 L749.4,271.1 L749.0,272.1 L748.0,272.5 L747.0,272.1Z"/>
<path fill="#8a8a8a" d="M751.8,287.0 L752.2,286.0 L753.2,285.6 L754.2,286.0 L754.6,287.0 L754.2,288.0 L753.2,288.4 L752.2,288.0Z"/>
<path fill="#8a8a8a" d="M735.2,292.3 L735.6,291.3 L736.6,290.9 L737.6,291.3 L738.0,292.3 L737.6,293.3 L736.6,293.7 L735.6,293.3Z"/>
<path fill="#8a8a8a" d="M762.4,316.0 L762.8,315.0 L763.8,314.6 L764.8,315.0 L765.2,316.0 L764.8,317.0 L763.8,317.4 L762.8,317.0Z"/>
<path fill="#8a8a8a" d="M507.4,277.9 L507.8,276.9 L508.8,276.5 L509.8,276.9 L510.2,277.9 L509.8,278.9 L508.8,279.3 L507.8,278.9Z"/>
<path fill="#8a8a8a" d="M468.3,304.4 L468.7,303.4 L469.7,303.0 L470.7,303.4 L471.1,304.4 L470.7,305.4 L469.7,305.8 L468.7,305.4Z"/>
</g>
</svg>
<div class="lb" style="left:85.5px;top:126.7px"><span style="transform:scaleX(0.934)">Etats-Unis</span><br><span style="transform:scaleX(0.966)">3500+ €</span></div>
<div class="lb" style="left:231.9px;top:115.8px"><span style="transform:scaleX(1.068)">Angleterre</span><br><span style="transform:scaleX(0.966)">2500+ €</span></div>
<div class="lb" style="left:300.1px;top:94.3px"><span style="transform:scaleX(1.045)">France</span><br><span style="transform:scaleX(0.960)">1900 €</span></div>
<div class="lb" style="left:245.8px;top:149.7px"><span style="transform:scaleX(1.030)">Espagne</span><br><span style="transform:scaleX(0.960)">1300 €</span></div>
<div class="lb" style="left:236.1px;top:182.9px"><span style="transform:scaleX(1.048)">Portugal</span><br><span style="transform:scaleX(0.984)">1100 €</span></div>
<div class="lb" style="left:373.8px;top:78.5px"><span style="transform:scaleX(0.935)">Bielo Russie</span><br><span style="transform:scaleX(0.960)">650 €</span></div>
<div class="lb" style="left:397.3px;top:114.7px"><span style="transform:scaleX(1.094)">Modalvie</span><br><span style="transform:scaleX(0.960)">550 €</span></div>
<div class="lb" style="left:427.5px;top:149.4px"><span style="transform:scaleX(1.046)">Roumanie</span><br><span style="transform:scaleX(0.960)">1000 €</span></div>
<div class="lb" style="left:360.9px;top:175.1px"><span style="transform:scaleX(1.007)">Ukraine</span><br><span style="transform:scaleX(0.960)">700 €</span></div>
<div class="lb" style="left:500.7px;top:111.1px"><span style="transform:scaleX(0.895)">Russie</span><br><span style="transform:scaleX(0.960)">950 €</span></div>
<div class="lb" style="left:594.0px;top:150.1px"><span style="transform:scaleX(1.063)">Chine</span><br><span style="transform:scaleX(0.960)">500 €</span></div>
<div class="lb" style="left:421.2px;top:200.8px"><span style="transform:scaleX(0.964)">Israël</span><br><span style="transform:scaleX(0.960)">1800 €</span></div>
<div class="lb" style="left:348.3px;top:216.1px"><span style="transform:scaleX(0.932)">Tunisie</span><br><span style="transform:scaleX(0.960)">650 €</span></div>
<div class="lb" style="left:271.4px;top:218.3px"><span style="transform:scaleX(1.111)">Maroc</span><br><span style="transform:scaleX(0.960)">600 €</span></div>
<div class="lb" style="left:250.5px;top:262.3px"><span style="transform:scaleX(1.041)">Sénégal</span><br><span style="transform:scaleX(0.960)">600 €</span></div>
<div class="lb" style="left:457.9px;top:234.5px"><span style="transform:scaleX(1.075)">Inde</span><br><span style="transform:scaleX(0.960)">550 €</span></div>
<div class="lb" style="left:532.0px;top:265.9px"><span style="transform:scaleX(1.088)">Vietnam</span><br><span style="transform:scaleX(0.960)">400 €</span></div>
<div class="lb" style="left:233.7px;top:329.2px"><span style="transform:scaleX(0.891)">Brésil</span><br><span style="transform:scaleX(0.960)">1000 €</span></div>
<div class="lb" style="left:110.3px;top:373.4px"><span style="transform:scaleX(1.074)">Argentine</span><br><span style="transform:scaleX(0.960)">900 €</span></div>
<div class="lb" style="left:373.1px;top:320.7px"><span style="transform:scaleX(1.111)">Madagascar</span><br><span style="transform:scaleX(0.960)">250 €</span></div>
<div class="lb" style="left:471.6px;top:342.1px"><span style="transform:scaleX(1.056)">Ile Maurice</span><br><span style="transform:scaleX(0.960)">450 €</span></div>
<svg class="map" width="800" height="566" viewBox="0 0 800 566"><g fill="rgba(109,110,113,.82)"><path d="M339.9,125.3 Q343.5,134 348.6,147.8 Q348.4,134 347.9,125.3Z"/><path d="M380.4,109.4 Q384.5,124 389.7,139.8 Q388.6,124 388.3,109.4Z"/><path d="M397.6,141 Q398.6,155 398.3,167.8 Q400.2,155 402.2,144.6Z"/></g></svg>
<svg class="pc" width="800" height="566" viewBox="0 0 800 566">
<defs>
<linearGradient id="tw" x1="0" y1="0" x2="1" y2="1"><stop offset="0" stop-color="#fbfbfb"/><stop offset=".55" stop-color="#e9e9e9"/><stop offset="1" stop-color="#cfcfcf"/></linearGradient>
<linearGradient id="bay" x1="0" y1="0" x2="0" y2="1"><stop offset="0" stop-color="#ffffff"/><stop offset=".55" stop-color="#f0f0f0"/><stop offset="1" stop-color="#cfcfcf"/></linearGradient>
<linearGradient id="bez" x1="0" y1="0" x2="1" y2="1"><stop offset="0" stop-color="#ffffff"/><stop offset=".6" stop-color="#f0f0f0"/><stop offset="1" stop-color="#cdcdcd"/></linearGradient>
<linearGradient id="scr" x1="0" y1="0" x2="0" y2="1"><stop offset="0" stop-color="#2c6cc4"/><stop offset=".5" stop-color="#1d57b2"/><stop offset="1" stop-color="#3d8bdc"/></linearGradient>
<radialGradient id="hl" cx=".5" cy=".1" r=".75"><stop offset="0" stop-color="#74baf0"/><stop offset=".6" stop-color="#3a82d2"/><stop offset="1" stop-color="#2866bf"/></radialGradient>
<linearGradient id="base" x1="0" y1="0" x2="0" y2="1"><stop offset="0" stop-color="#ffffff"/><stop offset="1" stop-color="#d4d4d4"/></linearGradient>
<clipPath id="scrclip"><rect x="344.6" y="411.8" width="71.2" height="50.4"/></clipPath>
</defs>
<!-- tower -->
<rect x="412.3" y="390.3" width="45" height="104" rx="3.6" fill="url(#tw)" stroke="#111" stroke-width="1.5"/>
<rect x="415" y="393" width="39.6" height="98.6" rx="2" fill="none" stroke="#fff" stroke-width="1" opacity=".8"/>
<rect x="416.4" y="395.6" width="36.8" height="10.8" rx="2.2" fill="url(#bay)" stroke="#9c9c9c" stroke-width=".8"/>
<rect x="416.4" y="407.6" width="36.8" height="10.8" rx="2.2" fill="url(#bay)" stroke="#9c9c9c" stroke-width=".8"/>
<rect x="416.4" y="419.8" width="36.8" height="11" rx="2.2" fill="url(#bay)" stroke="#9c9c9c" stroke-width=".8"/>
<rect x="419.5" y="400.4" width="30.8" height="1.5" rx=".7" fill="#8e8e8e"/>
<rect x="425.3" y="442.6" width="27.2" height="3.2" rx="1.4" fill="#efefef" stroke="#9b9b9b" stroke-width=".7"/>
<rect x="426" y="443" width="25.8" height="1.1" fill="#8b8b8b"/>
<!-- power button -->
<path d="M423,470.6 q0,-3.1 3.6,-3.1 h3 a5.7,5.7 0 0 1 9.8,0 h4 q4.4,0 4.4,3.1 q0,3.1 -4.4,3.1 h-4 a5.7,5.7 0 0 1 -9.8,0 h-3 q-3.6,0 -3.6,-3.1z" fill="#8c8c8c" stroke="#757575" stroke-width=".5"/>
<circle cx="434.5" cy="470.6" r="4" fill="#e4e4e4" stroke="#fafafa" stroke-width=".7"/>
<circle cx="425.5" cy="470.8" r="1.15" fill="#35c13c"/>
<circle cx="443.6" cy="470.8" r="1.5" fill="#e6e6e6"/>
<!-- monitor stand -->
<ellipse cx="380" cy="483.3" rx="30.3" ry="10.4" fill="url(#base)" stroke="#111" stroke-width="1.5"/>
<path d="M362.5,471.5 L397,471.5 Q396,480 390,482.5 Q380,485.5 370,482.5 Q363.5,480 362.5,471.5Z" fill="#e4e4e4"/>
<path d="M366,484 Q380,489.5 396,484.5 Q398,483.5 398,482 Q381,486.5 366,484Z" fill="#c4c4c4" opacity=".7"/>
<!-- monitor -->
<rect x="335.2" y="403" width="90" height="69" rx="5.8" fill="url(#bez)" stroke="#111" stroke-width="1.6"/>
<rect x="344.6" y="411.8" width="71.2" height="50.4" fill="url(#scr)" stroke="#7b8794" stroke-width=".8"/>
<g clip-path="url(#scrclip)"><ellipse cx="380" cy="424" rx="36" ry="16.5" fill="url(#hl)"/></g>
</svg>

<svg class="logo" width="800" height="566" viewBox="0 0 800 566">
<defs>
<radialGradient id="glb" cx=".4" cy=".35" r=".7"><stop offset="0" stop-color="#c4dbf3"/><stop offset="1" stop-color="#8fb6e2"/></radialGradient>
<clipPath id="gclip"><circle cx="746.5" cy="531.4" r="8.4"/></clipPath>
</defs>
<g fill="none" stroke="#fff" stroke-width="2.8" stroke-linejoin="miter">
<ellipse cx="674.9" cy="531.9" rx="7.6" ry="7.3"/>
<path d="M687.9,540.5 V524.8 H694.9 M687.9,531.7 H693.6"/>
<path d="M699.3,540.5 V524.8 H706.6 M699.3,531.7 H705.3"/>
<path d="M717.9,527.6 C717.4,523.9 710.9,523.6 710.6,527.5 C710.4,530.4 713.2,530.9 714.6,531.6 C717,532.7 718.4,534 718,536.3 C717.3,540 710.2,540.2 709.6,535.6"/>
<path d="M723.8,523.4 V540.5 M734.1,523.4 V540.5 M723.8,531.4 H734.1"/>
<path d="M759.7,540.5 V524.8 H763.6 C769.4,524.8 769.4,533.4 763.6,533.4 H761 M763.4,533.6 L768.6,540.5"/>
<path d="M781.4,524.8 H774 V539 H781.4 M774,531.7 H780.6"/>
</g>
<circle cx="746.5" cy="531.4" r="8.4" fill="url(#glb)"/>
<g clip-path="url(#gclip)" fill="#f5d06f">
<path d="M739,525.5 q2,-2.5 5,-2.5 l4.5,.4 l2.5,1.6 l-.5,2.2 l-2.6,.6 l-1.5,2 l1,2.4 l-2.2,1.8 l-3.4,-.6 l-2.2,-2.6 l-1.6,-2.2z"/>
<path d="M747.2,532.6 l3.4,-1.2 l2.8,1.4 l.6,3 l-1.8,2.6 l-2.6,.6 l-1.8,-2.4z"/>
<path d="M752.5,524.8 l2.4,1 l.8,2.2 l-2,.6 l-1.6,-1.6z"/>
</g>
<text x="667.3" y="555.8" font-family="Liberation Sans, sans-serif" font-size="14.2" fill="#a1968f" textLength="114" lengthAdjust="spacingAndGlyphs">DEVELOPPEMENT</text>
</svg>

<div class="src">Source <b>www.offshore-developpement.com</b></div>
</body>
</html>
